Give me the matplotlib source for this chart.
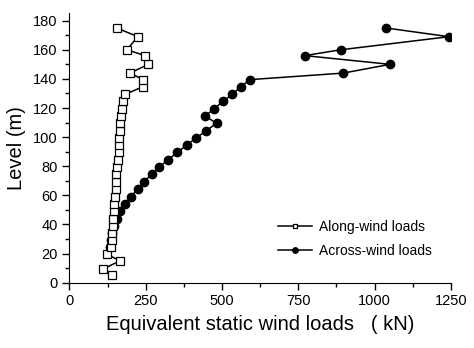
import matplotlib
matplotlib.use("Agg")
import matplotlib.pyplot as plt
from matplotlib.ticker import MultipleLocator

plt.rcParams['font.family'] = ['Liberation Sans', 'DejaVu Sans']

levels_along = [5, 9.5, 15, 19.5, 24.5, 29, 34, 39, 44, 49, 54, 59, 64.5, 69.5,
                74.5, 79.5, 84.5, 89.5, 94.5, 99.5, 104.5, 109.5, 114.5, 119.5,
                124.5, 129.5, 134.5, 139.5, 144, 150, 156, 160, 169, 175]
along_wind = [138, 111, 166, 123, 137, 140, 140, 142, 144, 145, 147, 149, 151, 152,
              154, 157, 159, 161, 162, 163, 165, 167, 170, 172,
              175, 183, 240, 242, 198, 259, 248, 188, 224, 155]

levels_across = [24.5, 29, 34, 39, 44, 49, 54, 59, 64.5, 69.5,
                 74.5, 79.5, 84.5, 89.5, 94.5, 99.5, 104.5, 109.5, 114.5, 119.5,
                 124.5, 129.5, 134.5, 139.5, 144, 150, 156, 160, 169, 175]
across_wind = [133, 135, 140, 147, 157, 167, 182, 202, 223, 244,
               270, 295, 323, 354, 384, 416, 449, 482, 445, 474,
               503, 534, 561, 592, 898, 1051, 771, 889, 1244, 1037]

fig = plt.figure(figsize=(4.74, 3.48), dpi=100)
ax = fig.add_axes([0.1466, 0.1877, 0.8044, 0.7738])

ax.plot(across_wind, levels_across, '-o', color='black', lw=1.1,
        markersize=6.0, markerfacecolor='black', label='Across-wind loads', zorder=2)
ax.plot(along_wind, levels_along, '-s', color='black', lw=1.1,
        markersize=5.5, markerfacecolor='white', markeredgewidth=0.9,
        label='Along-wind loads', zorder=3)

ax.set_xlim(0, 1250)
ax.set_ylim(0, 185)
ax.xaxis.set_major_locator(MultipleLocator(250))
ax.xaxis.set_minor_locator(MultipleLocator(125))
ax.yaxis.set_major_locator(MultipleLocator(20))
ax.yaxis.set_minor_locator(MultipleLocator(10))
ax.spines['top'].set_visible(False)
ax.spines['right'].set_visible(False)
ax.tick_params(which='major', direction='out', length=5, width=1, labelsize=10.5)
ax.tick_params(which='minor', direction='out', length=3, width=1)

ax.set_xlabel('Equivalent static wind loads   ( kN)', fontsize=14.5, labelpad=5)
ax.set_ylabel('Level (m)', fontsize=14.5, labelpad=5)

handles, labels = ax.get_legend_handles_labels()
ax.legend(handles[::-1], labels[::-1], loc='lower right',
          bbox_to_anchor=(0.982, 0.045), frameon=False, fontsize=10,
          handlelength=2.4, handletextpad=0.5, labelspacing=0.75,
          markerscale=0.65)

fig.savefig('out.png', dpi=100)
